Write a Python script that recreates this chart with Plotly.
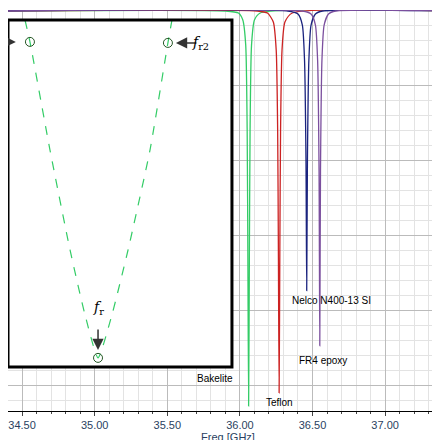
import plotly.graph_objects as go

# main resonance curves (freq in GHz, S21 in dB)
bak_f = [34.30, 35.90, 35.99, 36.02, 36.04, 36.05, 36.055, 36.06, 36.065, 36.07, 36.08, 36.10, 36.14, 37.45]
bak_db = [-0.1, -0.1, -0.3, -1.0, -3.5, -12, -25, -39.5, -25, -12, -3.5, -1.0, -0.3, -0.1]
tef_f = [34.30, 36.12, 36.19, 36.23, 36.25, 36.26, 36.265, 36.27, 36.275, 36.28, 36.29, 36.31, 36.36, 37.45]
tef_db = [-0.1, -0.1, -0.3, -1.2, -4, -12, -24, -38.2, -24, -12, -4, -1.2, -0.3, -0.1]
nel_f = [34.30, 36.33, 36.40, 36.43, 36.445, 36.455, 36.46, 36.465, 36.475, 36.49, 36.52, 36.57, 37.45]
nel_db = [-0.1, -0.1, -0.4, -1.5, -5, -15, -28, -15, -5, -1.5, -0.4, -0.1, -0.1]
fr4_f = [34.30, 36.43, 36.49, 36.52, 36.535, 36.545, 36.55, 36.555, 36.565, 36.58, 36.61, 36.66, 37.45]
fr4_db = [-0.1, -0.1, -0.4, -1.5, -5, -16, -33.5, -16, -5, -1.5, -0.4, -0.1, -0.1]

# inset sketch (normalised box units)
v_u = [0.076, 0.098, 0.1875, 0.277, 0.344, 0.402, 0.464, 0.536, 0.634, 0.714, 0.732]
v_v = [1.0, 0.937, 0.625, 0.337, 0.15, 0.026, 0.15, 0.337, 0.625, 0.934, 1.0]
mark_u = [0.098, 0.402, 0.714]
mark_v = [0.937, 0.026, 0.934]

fig = go.Figure()
for f, d, c in [(bak_f, bak_db, '#33cc66'), (tef_f, tef_db, '#cc2222'),
                (nel_f, nel_db, '#1a237e'), (fr4_f, fr4_db, '#7b4f9e')]:
    fig.add_scatter(x=f, y=d, mode='lines', line=dict(color=c, width=1.3,
                    shape='spline', smoothing=0.6))

fig.add_scatter(x=v_u, y=v_v, xaxis='x2', yaxis='y2', mode='lines',
                line=dict(color='#33cc66', width=1.2, dash='dash', shape='spline', smoothing=0.5))
fig.add_scatter(x=mark_u, y=mark_v, xaxis='x2', yaxis='y2', mode='markers',
                marker=dict(symbol='circle-open', size=9, color='#225522', line=dict(width=1)))

lbl = dict(size=10, family='Liberation Sans', color='black')
for x, y, t in [(35.83, -36.8, 'Bakelite'), (36.27, -39.2, 'Teflon'),
                (36.63, -29, 'Nelco N400-13 SI'), (36.57, -35, 'FR4 epoxy')]:
    fig.add_annotation(x=x, y=y, text=t, showarrow=False, font=lbl, xanchor='center')

ser = dict(size=14, family='DejaVu Serif', color='black')
arr = dict(showarrow=True, arrowhead=2, arrowsize=1.5, arrowwidth=1.5, arrowcolor='#333333')
fig.add_annotation(x=0.714, y=0.934, xref='x2', yref='y2', ax=30, ay=0, text='', standoff=8, **arr)
fig.add_annotation(x=0.86, y=0.934, xref='x2', yref='y2', text='<i>f</i><sub>r2</sub>',
                   showarrow=False, font=ser)
fig.add_annotation(x=0.035, y=0.937, xref='x2', yref='y2', ax=-12, ay=0, text='', **arr)
fig.add_annotation(x=0.402, y=0.026, xref='x2', yref='y2', ax=0, ay=-30, text='', standoff=8, **arr)
fig.add_annotation(x=0.402, y=0.17, xref='x2', yref='y2', text='<i>f</i><sub>r</sub>',
                   showarrow=False, font=ser)

fig.add_shape(type='rect', xref='paper', yref='paper', x0=0.0, x1=0.509, y0=0.11, y1=0.975,
              line=dict(color='black', width=3))

fig.update_layout(
    width=440, height=440, showlegend=False, plot_bgcolor='white', paper_bgcolor='white',
    margin=dict(l=0, r=0, t=2, b=37),
    xaxis=dict(range=[34.403, 37.433], dtick=0.5, tick0=34.5, tickformat='.2f', automargin=False,
               gridcolor='#bbbbbb', ticks='outside', ticklen=4, showline=True, linecolor='black',
               minor=dict(dtick=0.1, gridcolor='#e3e3e3', ticks='outside', ticklen=2),
               title=dict(text='Freq [GHz]', standoff=0, font=dict(size=11, family='Liberation Sans')),
               tickfont=dict(size=11, family='Liberation Sans'), zeroline=False),
    yaxis=dict(range=[-40, 0], dtick=7.5, tick0=0, showticklabels=False, gridcolor='#bbbbbb',
               minor=dict(dtick=1.5, gridcolor='#e3e3e3'), zeroline=False, mirror=True,
               showline=True, linecolor='black', automargin=False),
    xaxis2=dict(domain=[0.0, 0.509], range=[0, 1], visible=False),
    yaxis2=dict(domain=[0.11, 0.975], range=[0, 1], visible=False),
)
fig.write_html("out.html")
